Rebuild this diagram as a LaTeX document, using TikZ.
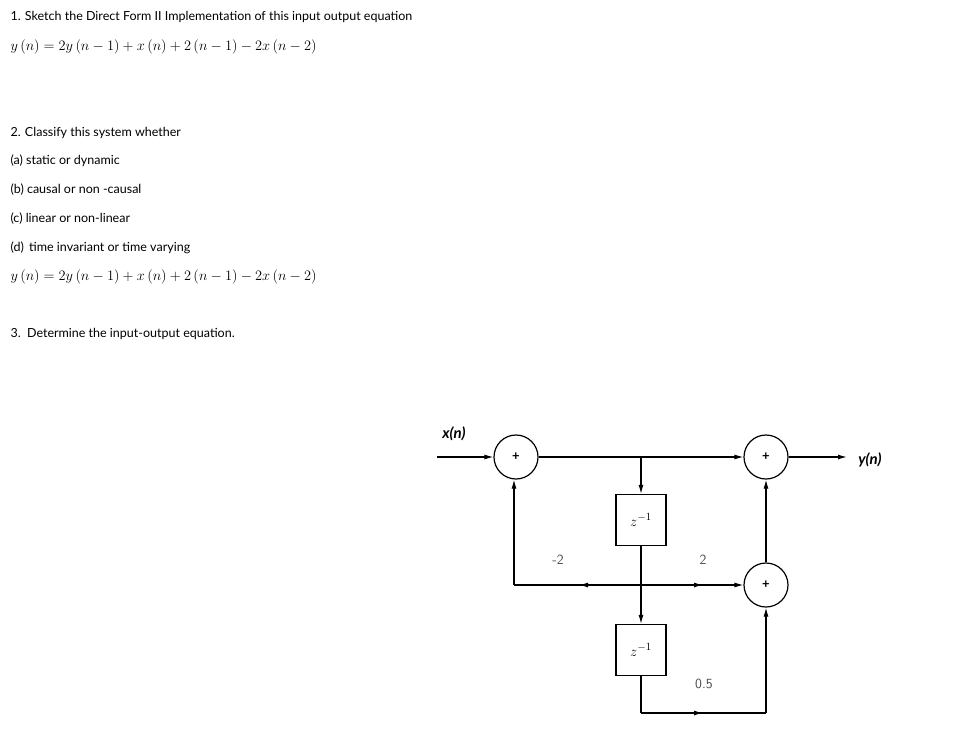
\documentclass[tikz,border=0pt]{standalone}
\usepackage{fontspec}
\setmainfont{Lato}
\usetikzlibrary{arrows.meta,calc}
\begin{document}
\begin{tikzpicture}[x=1pt,y=-1pt,
 txt/.style={anchor=west,font=\fontsize{12.5}{14}\selectfont},
 eq/.style={anchor=west,font=\fontsize{15}{17}\selectfont},
 sumn/.style={circle,draw,line width=1.2pt,minimum size=44pt,inner sep=0pt,font=\bfseries\fontsize{13}{15}\selectfont},
 dly/.style={draw,line width=1.2pt,minimum width=50pt,minimum height=51pt,font=\fontsize{15}{17}\selectfont},
 w/.style={line width=1.2pt},
 a/.style={w,-{Latex[length=9pt,width=5pt]}},
 lab/.style={font=\sffamily\fontsize{14}{16}\selectfont,text=black!70}]
\useasboundingbox (0,0) rectangle (959,729);
\fill[white] (0,0) rectangle (959,729);
\node[txt] (t1) at (7,17) {1. Sketch the Direct Form II Implementation of this input output equation};
\node[eq] (e1) at (7,47) {$y\,(n) = 2y\,(n-1)+x\,(n)+2\,(n-1)-2x\,(n-2)$};
\node[txt] (t2) at (7,133) {2. Classify this system whether};
\node[txt] (t3) at (7,161) {(a) static or dynamic};
\node[txt] (t4) at (7,190) {(b) causal or non -causal};
\node[txt] (t5) at (7,219) {(c) linear or non-linear};
\node[txt] (t6) at (7,248) {(d)\, time invariant or time varying};
\node[eq] (e2) at (7,277) {$y\,(n) = 2y\,(n-1)+x\,(n)+2\,(n-1)-2x\,(n-2)$};
\node[txt] (t7) at (7,334) {3.\, Determine the input-output equation.};

\node[sumn] (s1) at (516,457) {+};
\node[sumn] (s2) at (766,457) {+};
\node[sumn] (s3) at (766,585) {+};
\node[dly] (d1) at (641,520) {$z^{-1}$};
\node[dly] (d2) at (641,650) {$z^{-1}$};
\coordinate (in) at (437,457);
\coordinate (out) at (847,457);
\coordinate (j1) at (641,457);
\coordinate (j2) at (641,585);
\coordinate (lc) at (514,585);
\coordinate (bl) at (641,713);
\coordinate (br) at (766,713);
\node[font=\bfseries\itshape\fontsize{15}{17}\selectfont] (xl) at (454,434) {x(n)};
\node[font=\bfseries\itshape\fontsize{15}{17}\selectfont] (yl) at (870,460) {y(n)};

\draw[a] (in) -- (s1.west);
\draw[w] (s1.east) -- (j1);
\draw[a] (j1) -- (s2.west);
\draw[a] (s2.east) -- (out);
\draw[a] (j1) -- (d1.north);
\draw[a] (d1.south) -- (d2.north);
\draw[w] (j2) -- (lc);
\draw[a] (j2) -- ($(lc)+(65,0)$);
\draw[a] (lc) -- (lc |- s1.south);
\draw[a] (j2) -- (s3.west);
\draw[a] (j2) -- ($(j2)+(62,0)$);
\draw[a] (s3.north) -- (s2.south);
\draw[w] (d2.south) -- (bl);
\draw[a] (bl) -- ($(bl)+(62,0)$);
\draw[w] (bl) -- (br);
\draw[a] (br) -- (s3.south);
\node[lab] (g1) at (558,560) {-2};
\node[lab] (g2) at (703,560) {2};
\node[lab] (g3) at (704,684) {0.5};
\end{tikzpicture}
\end{document}
